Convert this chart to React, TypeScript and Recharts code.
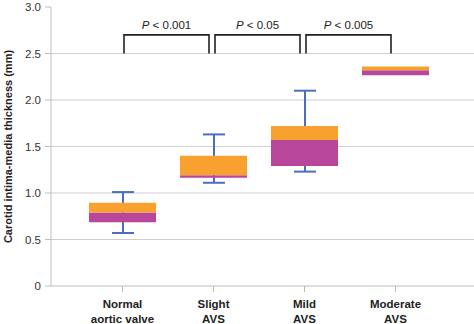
import { ComposedChart, Bar, XAxis, YAxis, CartesianGrid } from "recharts";

const categories = ["Normal aortic valve", "Slight AVS", "Mild AVS", "Moderate AVS"];
const tickLines = [
  ["Normal", "aortic valve"],
  ["Slight", "AVS"],
  ["Mild", "AVS"],
  ["Moderate", "AVS"],
];
const whiskerLow = [0.57, 1.11, 1.23, null];
const whiskerHigh = [1.01, 1.63, 2.1, null];
const q1 = [0.685, 1.165, 1.29, 2.265];
const median = [0.79, 1.19, 1.57, 2.32];
const q3 = [0.895, 1.4, 1.72, 2.36];
const pLabels = ["< 0.001", "< 0.05", "< 0.005", null];
const bracketLow = 2.5;
const bracketHigh = 2.7;
const yTicks = [0, 0.5, 1, 1.5, 2, 2.5, 3];
const gridValues = [0.5, 1, 1.5, 2, 2.5];

const ORANGE = "#f9a12f";
const MAGENTA = "#b8479c";
const BLUE = "#4d6ebf";
const AXIS = "#bdbdbd";
const FONT = "'Liberation Sans', Arial, sans-serif";

const W = 474;
const H = 324;
const PAD = { left: 26, right: 33 };
const Y_W = 51;
const BAND = (W - Y_W - PAD.left - PAD.right) / categories.length;

const data = categories.map((name, i) => ({
  name,
  whisker: whiskerLow[i] == null ? null : [whiskerLow[i], whiskerHigh[i]],
  lower: [q1[i], median[i]],
  upper: [median[i], q3[i]],
  bracket: pLabels[i] == null ? null : [bracketLow, bracketHigh],
  p: pLabels[i],
}));

function WhiskerShape(props: any) {
  const { x, y, width, height, payload } = props;
  if (!payload || payload.whisker == null) return null;
  const cx = x + width / 2;
  return (
    <g stroke={BLUE} strokeWidth={2}>
      <line x1={cx} x2={cx} y1={y} y2={y + height} />
      <line x1={x} x2={x + width} y1={y} y2={y} />
      <line x1={x} x2={x + width} y1={y + height} y2={y + height} />
    </g>
  );
}

function BracketShape(props: any) {
  const { x, y, width, height, payload } = props;
  if (!payload || payload.bracket == null) return null;
  const x1 = x + width / 2 + 1;
  const x2 = x + width / 2 + BAND - 5;
  const mid = (x1 + x2) / 2;
  return (
    <g>
      <path
        d={`M${x1},${y + height} L${x1},${y} L${x2},${y} L${x2},${y + height}`}
        fill="none"
        stroke="#222"
        strokeWidth={1.6}
      />
      <text
        x={mid}
        y={y - 6}
        textAnchor="middle"
        fontSize={11.5}
        fontFamily={FONT}
        fill="#222"
      >
        <tspan fontStyle="italic">P</tspan> {payload.p}
      </text>
    </g>
  );
}

function CategoryTick(props: any) {
  const { x, y, index } = props;
  const lines = tickLines[index] || [];
  return (
    <text
      x={x}
      y={y}
      textAnchor="middle"
      fontSize={11.5}
      fontWeight="bold"
      fontFamily={FONT}
      fill="#222"
    >
      {lines.map((l, i) => (
        <tspan key={i} x={x} dy={i === 0 ? 14 : 15}>
          {l}
        </tspan>
      ))}
    </text>
  );
}

function YLabel(props: any) {
  const { viewBox } = props;
  const cy = viewBox.y + viewBox.height / 2;
  return (
    <text
      x={12}
      y={cy}
      transform={`rotate(-90, 12, ${cy})`}
      textAnchor="middle"
      fontSize={11}
      fontWeight="bold"
      fontFamily={FONT}
      fill="#222"
    >
      Carotid intima-media thickness (mm)
    </text>
  );
}

export default function App() {
  return (
    <div style={{ position: "absolute", left: 0, top: 0, background: "#fff" }}>
      <ComposedChart
        width={W}
        height={H}
        data={data}
        margin={{ top: 7, right: 0, bottom: 0, left: 0 }}
      >
        <CartesianGrid
          vertical={false}
          horizontalValues={gridValues}
          stroke="#cfcfcf"
        />
        <XAxis
          dataKey="name"
          height={38}
          padding={PAD}
          stroke={AXIS}
          tickSize={6}
          tick={<CategoryTick />}
          interval={0}
        />
        <XAxis xAxisId="w" dataKey="name" padding={PAD} hide />
        <XAxis xAxisId="b" dataKey="name" padding={PAD} hide />
        <XAxis xAxisId="u" dataKey="name" padding={PAD} hide />
        <YAxis
          width={Y_W}
          domain={[0, 3]}
          ticks={yTicks}
          stroke={AXIS}
          tickSize={6}
          tickMargin={4}
          tickFormatter={(v: number) => (v === 0 ? "0" : v.toFixed(1))}
          tick={{ fill: "#333", fontSize: 11.5, fontFamily: FONT }}
          label={<YLabel />}
        />
        <Bar
          xAxisId="w"
          dataKey="whisker"
          barSize={22}
          shape={<WhiskerShape />}
          isAnimationActive={false}
        />
        <Bar
          dataKey="lower"
          barSize={67}
          fill={MAGENTA}
          isAnimationActive={false}
        />
        <Bar
          xAxisId="u"
          dataKey="upper"
          barSize={67}
          fill={ORANGE}
          isAnimationActive={false}
        />
        <Bar
          xAxisId="b"
          dataKey="bracket"
          barSize={10}
          shape={<BracketShape />}
          isAnimationActive={false}
        />
      </ComposedChart>
    </div>
  );
}
